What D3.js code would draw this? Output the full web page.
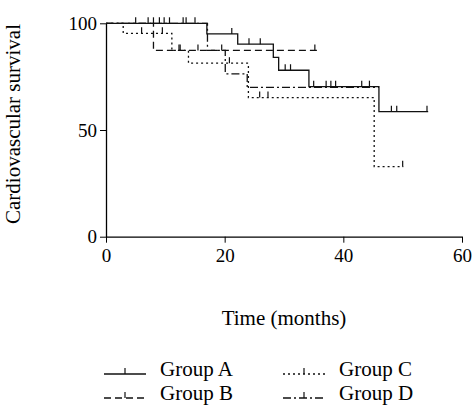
<!DOCTYPE html>
<html><head><meta charset="utf-8">
<script src="https://cdn.jsdelivr.net/npm/d3@7"></script>
<style>body{margin:0;background:#fff}svg{font-family:"Liberation Serif","DejaVu Serif",serif}</style>
</head><body><svg id="c" width="474" height="416"></svg>
<script>
const groups = ["Group A","Group B","Group C","Group D"];
const dashes = ["none","7,4","2,3","8,3,2,3"];
const timesA = [0,17,22.2,28.2,29.1,34.2,46], survA = [100,95,90.2,84,78,70.3,58.6], endA = 54.3;
const censA = [5,7.1,8,9,9.8,10.7,13,21.2,24.1,26,30.2,31.1,35,37.1,37.9,38.7,43.1,44.4,48.1,49,54.1];
const timesB = [0,8], survB = [100,87.3], endB = 36.1;
const censB = [12.5,15.5,35.2];
const timesC = [0,2.9,11.1,13.9,24,45.2], survC = [100,95.3,87.3,81.3,65.2,32.8], endC = 50.1;
const censC = [6,9.5,12.3,20.8,25.9,27.3,50];
const timesD = [0,17.1,20.1,23.8], survD = [100,87.3,76.3,70], endD = 46;
const censD = [13.5,15,19.5];
const xTicks = [0,20,40,60], yTicks = [0,50,100];

const data = [
 {t:timesA,s:survA,e:endA,c:censA},{t:timesB,s:survB,e:endB,c:censB},
 {t:timesC,s:survC,e:endC,c:censC},{t:timesD,s:survD,e:endD,c:censD}];
const svg = d3.select("#c");
const x = d3.scaleLinear().domain([0,60]).range([106,462]);
const y = d3.scaleLinear().domain([0,100]).range([236.7,23.3]);
svg.append("g").attr("transform","translate(0,236.7)")
 .call(d3.axisBottom(x).tickValues(xTicks).tickSize(6).tickSizeOuter(0))
 .call(g=>{g.select(".domain").attr("stroke-width",1.3);g.selectAll("text").attr("font-size",19).attr("font-family","Liberation Serif").attr("dy","0.85em");});
svg.append("g").attr("transform","translate(106,0)")
 .call(d3.axisLeft(y).tickValues(yTicks).tickSize(6).tickSizeOuter(0))
 .call(g=>{g.select(".domain").attr("stroke-width",1.3);g.selectAll("text").attr("font-size",19).attr("font-family","Liberation Serif");});
svg.append("text").attr("x",284).attr("y",325).attr("text-anchor","middle").attr("font-size",21).text("Time (months)");
svg.append("text").attr("transform","translate(20,124) rotate(-90)").attr("text-anchor","middle").attr("font-size",21).text("Cardiovascular survival");
function surv(d,t){let v=d.s[0];d.t.forEach((tt,i)=>{if(t>=tt)v=d.s[i];});return v;}
data.forEach((d,i)=>{
 const pts=d.t.map((t,j)=>[t,d.s[j]]); pts.push([d.e,d.s[d.s.length-1]]);
 const line=d3.line().x(p=>x(p[0])).y(p=>y(p[1])).curve(d3.curveStepAfter);
 svg.append("path").attr("d",line(pts)).attr("fill","none").attr("stroke","#111").attr("stroke-width",1.3).attr("stroke-dasharray",dashes[i]);
 svg.selectAll(null).data(d.c).enter().append("line")
  .attr("x1",c=>x(c)).attr("x2",c=>x(c)).attr("y1",c=>y(surv(d,c))).attr("y2",c=>y(surv(d,c))-6)
  .attr("stroke","#111").attr("stroke-width",1.2);
});
const lg=[[104,374],[104,398],[283,374],[283,398]];
groups.forEach((g,i)=>{
 const [lx,ly]=lg[i];
 svg.append("line").attr("x1",lx).attr("x2",lx+42).attr("y1",ly).attr("y2",ly).attr("stroke","#111").attr("stroke-width",1.3).attr("stroke-dasharray",dashes[i]);
 svg.append("line").attr("x1",lx+21).attr("x2",lx+21).attr("y1",ly).attr("y2",ly-6).attr("stroke","#111").attr("stroke-width",1.2);
 svg.append("text").attr("x",lx+56).attr("y",ly+2).attr("font-size",21).text(g);
});
</script></body></html>
